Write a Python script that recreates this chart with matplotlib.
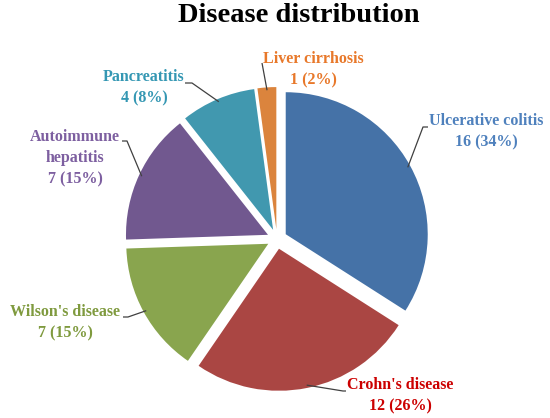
import numpy as np
import matplotlib.pyplot as plt

# data
diseases = ["Ulcerative colitis", "Crohn's disease", "Wilson's disease",
            "Autoimmune\nhepatitis", "Pancreatitis", "Liver cirrhosis"]
counts = [16, 12, 7, 7, 4, 1]
percents = [34, 26, 15, 15, 8, 2]

wedge_colors = ["#4572A7", "#AA4643", "#89A54E", "#71588F", "#4198AF", "#DB843D"]
text_colors = ["#4F81BD", "#CC0000", "#7F9A3E", "#7D5FA0", "#3497B3", "#E8782A"]

# layout (pixels from top-left): label centre, elbow, stub end
W, H = 550, 418
cx, cy, R = 277, 239, 142
label_xy = [(486, 132), (400, 396), (65, 323), (75, 158), (144, 88), (313, 70)]
elbow_xy = [(423, 127), (343, 391), (128, 317), (127, 141), (192, 83), (262, 63)]
stub_xy = [(428, 127), (346, 391), (123, 317), (122, 141), (185, 83), (262, 63)]


def px(p):
    return ((p[0] - cx) / R, (cy - p[1]) / R)


plt.rcParams['font.family'] = ['Liberation Serif', 'DejaVu Serif']

fig = plt.figure(figsize=(W / 100, H / 100), dpi=100)
ax = fig.add_axes([0, 0, 1, 1])

expl = 0.07
wedges, _ = ax.pie(counts, colors=wedge_colors, startangle=90, counterclock=False,
                   explode=[expl] * len(counts), radius=1.0,
                   wedgeprops=dict(linewidth=0))

ax.set_xlim(-cx / R, (W - cx) / R)
ax.set_ylim(-(H - cy) / R, cy / R)
ax.set_aspect('equal')
ax.axis('off')

for i, w in enumerate(wedges):
    mid = np.deg2rad((w.theta1 + w.theta2) / 2)
    ox, oy = w.center
    sx, sy = ox + 0.98 * np.cos(mid), oy + 0.98 * np.sin(mid)
    ex, ey = px(elbow_xy[i])
    tx, ty = px(stub_xy[i])
    ax.plot([sx, ex, tx], [sy, ey, ty], color="#404040", lw=0.9, solid_capstyle='butt')
    lx, ly = px(label_xy[i])
    ax.text(lx, ly, f"{diseases[i]}\n{counts[i]} ({percents[i]}%)",
            ha='center', va='center', multialignment='center', color=text_colors[i],
            fontsize=11.5, fontweight='bold', linespacing=1.42)

ax.text(*px((299, 16)), "Disease distribution", ha='center', va='center',
        fontsize=20.5, fontweight='bold', color='black')

fig.savefig("out.png", dpi=100)
